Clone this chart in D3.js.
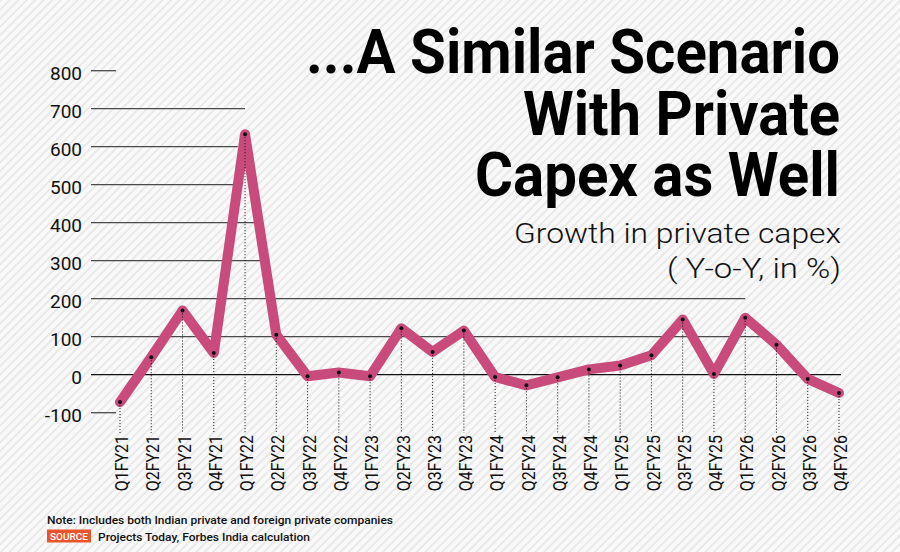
<!DOCTYPE html>
<meta charset="utf-8">
<script src="https://d3js.org/d3.v7.min.js"></script>
<style>
  body { margin: 0; background: #fff; }
  svg { display: block; font-family: Roboto, "DejaVu Sans", sans-serif; }
</style>
<body>
<div id="chart"></div>
<script>

// quarters on the x axis
var quarters = ["Q1FY21","Q2FY21","Q3FY21","Q4FY21","Q1FY22","Q2FY22","Q3FY22","Q4FY22",
                "Q1FY23","Q2FY23","Q3FY23","Q4FY23","Q1FY24","Q2FY24","Q3FY24","Q4FY24",
                "Q1FY25","Q2FY25","Q3FY25","Q4FY25","Q1FY26","Q2FY26","Q3FY26","Q4FY26"];

// growth in private capex, Y-o-Y %
var growth = [-72, 46, 169, 57, 633, 105, -4, 6,
              -4, 122, 60, 116, -6, -28, -7, 14,
              24, 51, 145, 2, 150, 79, -11, -48];

var yTicks = [-100, 0, 100, 200, 300, 400, 500, 600, 700, 800];

var titleLines = ["...A Similar Scenario", "With Private", "Capex as Well"];
var subtitleLines = ["Growth in private capex", "( Y-o-Y, in %)"];
var note = "Note: Includes both Indian private and foreign private companies";
var source = "Projects Today, Forbes India calculation";

var width = 900, height = 552;

var svg = d3.select("#chart").append("svg")
  .attr("width", width)
  .attr("height", height);

// striped background
var defs = svg.append("defs");
var pat = defs.append("pattern")
  .attr("id", "stripes")
  .attr("width", 6).attr("height", 6)
  .attr("patternUnits", "userSpaceOnUse")
  .attr("patternTransform", "rotate(45)");
pat.append("rect").attr("width", 6).attr("height", 6).attr("fill", "#f9f9f9");
pat.append("rect").attr("width", 2).attr("height", 6).attr("fill", "#e9e9e9");

svg.append("rect").attr("width", width).attr("height", height).attr("fill", "url(#stripes)");

var x = d3.scalePoint()
  .domain(quarters)
  .range([120, 839]);

var y = d3.scaleLinear()
  .domain([-100, 800])
  .range([412.7, 70.7]);

// where each gridline stops (they dodge the title)
var gridEnd = function(v) {
  if (v == 800 || v == -100) return x("Q1FY21") - 4;
  if (v == 700) return x("Q1FY22");
  if (v == 600 || v == 500) return x("Q4FY21") + 24;
  if (v == 400 || v == 300) return x("Q1FY22") + 16;
  if (v == 200) return x("Q1FY26");
  if (v == 100) return x("Q2FY26") - 10;
  return x("Q4FY26") + 2;
};

svg.append("g").selectAll("line")
  .data(yTicks)
  .enter().append("line")
    .attr("x1", 91)
    .attr("x2", function(d) { return gridEnd(d); })
    .attr("y1", function(d) { return y(d); })
    .attr("y2", function(d) { return y(d); })
    .attr("stroke", function(d) { return d == 0 ? "#111" : "#4a4a4a"; })
    .attr("stroke-width", 1.3);

svg.append("g").selectAll("text")
  .data(yTicks)
  .enter().append("text")
    .attr("x", 82)
    .attr("y", function(d) { return y(d) + 2.5; })
    .attr("dy", "0.35em")
    .attr("text-anchor", "end")
    .attr("font-size", 19)
    .attr("fill", "#111")
    .text(function(d) { return d; });

// the line
var line = d3.line()
  .x(function(d, i) { return x(quarters[i]); })
  .y(function(d) { return y(d); });

svg.append("path")
  .datum(growth)
  .attr("d", line)
  .attr("fill", "none")
  .attr("stroke", "#c84b7c")
  .attr("stroke-width", 10)
  .attr("stroke-linejoin", "round")
  .attr("stroke-linecap", "round");

// dotted drop lines
svg.append("g").selectAll("line")
  .data(growth)
  .enter().append("line")
    .attr("x1", function(d, i) { return x(quarters[i]); })
    .attr("x2", function(d, i) { return x(quarters[i]); })
    .attr("y1", function(d) { return y(d); })
    .attr("y2", 433)
    .attr("stroke", "#111")
    .attr("stroke-width", 1)
    .attr("stroke-dasharray", "1,2");

svg.append("g").selectAll("circle")
  .data(growth)
  .enter().append("circle")
    .attr("cx", function(d, i) { return x(quarters[i]); })
    .attr("cy", function(d) { return y(d); })
    .attr("r", 2)
    .attr("fill", "#111");

// x labels, rotated
svg.append("g").selectAll("text")
  .data(quarters)
  .enter().append("text")
    .attr("transform", function(d) { return "translate(" + (x(d) + 1.5) + ",435) rotate(-90) scale(0.84,1)"; })
    .attr("dy", "0.35em")
    .attr("text-anchor", "end")
    .attr("font-size", 19)
    .attr("fill", "#111")
    .text(function(d) { return d; });

// title
var titleW = [534, 317, 365];
svg.append("g").selectAll("text")
  .data(titleLines)
  .enter().append("text")
    .attr("x", 840)
    .attr("y", function(d, i) { return 73 + i * 61.7; })
    .attr("text-anchor", "end")
    .attr("font-size", 61)
    .attr("font-weight", 700)
    .attr("fill", "#000")
    .attr("textLength", function(d, i) { return titleW[i]; })
    .attr("lengthAdjust", "spacingAndGlyphs")
    .text(function(d) { return d; });

var subW = [327, 174];
svg.append("g").selectAll("text")
  .data(subtitleLines)
  .enter().append("text")
    .attr("x", 841)
    .attr("y", function(d, i) { return 243 + i * 35; })
    .attr("text-anchor", "end")
    .attr("font-size", 28)
    .attr("font-weight", 300)
    .attr("fill", "#111")
    .attr("textLength", function(d, i) { return subW[i]; })
    .attr("lengthAdjust", "spacingAndGlyphs")
    .text(function(d) { return d; });

// footer
svg.append("text")
  .attr("x", 47).attr("y", 524)
  .attr("font-size", 10.5)
  .attr("font-weight", 500)
  .attr("fill", "#111")
  .attr("textLength", 346)
  .attr("lengthAdjust", "spacingAndGlyphs")
  .text(note);

svg.append("rect")
  .attr("x", 47).attr("y", 529.5)
  .attr("width", 44).attr("height", 13)
  .attr("fill", "#e8542b");
svg.append("text")
  .attr("x", 50).attr("y", 539.5)
  .attr("font-size", 9.5)
  .attr("font-weight", 500)
  .attr("fill", "#fff")
  .attr("textLength", 38)
  .attr("lengthAdjust", "spacingAndGlyphs")
  .text("SOURCE");
svg.append("text")
  .attr("x", 98).attr("y", 540.5)
  .attr("font-size", 10.5)
  .attr("font-weight", 500)
  .attr("fill", "#111")
  .attr("textLength", 212)
  .attr("lengthAdjust", "spacingAndGlyphs")
  .text(source);

</script>
</body>
